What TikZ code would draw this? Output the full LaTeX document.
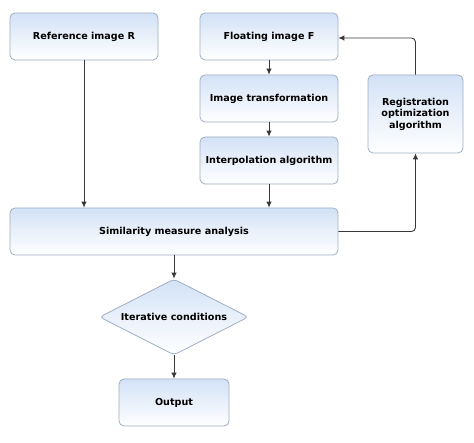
\documentclass[tikz,border=0pt]{standalone}
\usepackage{fontspec}
\setmainfont{DejaVu Sans}
\usetikzlibrary{arrows.meta,shapes.geometric}
\definecolor{boxtop}{HTML}{D3E2F6}
\definecolor{boxline}{HTML}{9FAEC2}
\tikzstyle{block} = [align=center,draw=boxline,line width=0.8pt,rectangle,rounded corners=5pt,top color=boxtop,bottom color=white,text centered,inner sep=0pt,minimum height=47pt,minimum width=138pt,font=\fontsize{9.6}{11.5}\selectfont\bfseries]
\tikzstyle{decision} = [align=center,draw=boxline,line width=0.8pt,diamond,shape aspect=2,rounded corners=4pt,top color=boxtop,bottom color=white,inner sep=0pt,minimum width=149pt,minimum height=76pt,font=\fontsize{9.6}{11.5}\selectfont\bfseries]
\tikzstyle{line} = [draw=black!78,line width=0.9pt,-{Latex[length=6pt,width=5.5pt]}]

\begin{document}
\begin{tikzpicture}[x=1pt,y=-1pt,node distance=62pt]
				\useasboundingbox (0,0) rectangle (474,443);
				\node (ref) [block,minimum width=148pt] at (84,36.5) {Reference image R};
				\node (flo) [block] at (269,36.5) {Floating image F};
				\node (trans) [block,below of=flo] {Image transformation};
				\node (interp) [block,below of=trans] {Interpolation algorithm};
				\node (sim) [block,minimum width=328pt] at (174,231.5) {Similarity measure analysis};
				\node (reg) [block,minimum width=95pt,minimum height=78pt] at (415.5,114) {Registration\\optimization\\algorithm};
				\node (iter) [decision,below of=sim,node distance=85.5pt] {Iterative conditions};
				\node (out) [block,minimum width=110pt,below of=iter,node distance=85.5pt] {Output};
				\draw [line] (ref) -- (ref |- sim.north);
				\draw [line] (flo) -- (trans);
				\draw [line] (trans) -- (interp);
				\draw [line] (interp) -- (interp |- sim.north);
				\draw [line] (sim) -- (iter);
				\draw [line] (iter) -- (out);
				\draw [line,rounded corners=4pt] (sim.east) -| (reg);
				\draw [line,rounded corners=4pt] (reg) |- ([yshift=-1.5pt]flo.east);
			\end{tikzpicture}
\end{document}
